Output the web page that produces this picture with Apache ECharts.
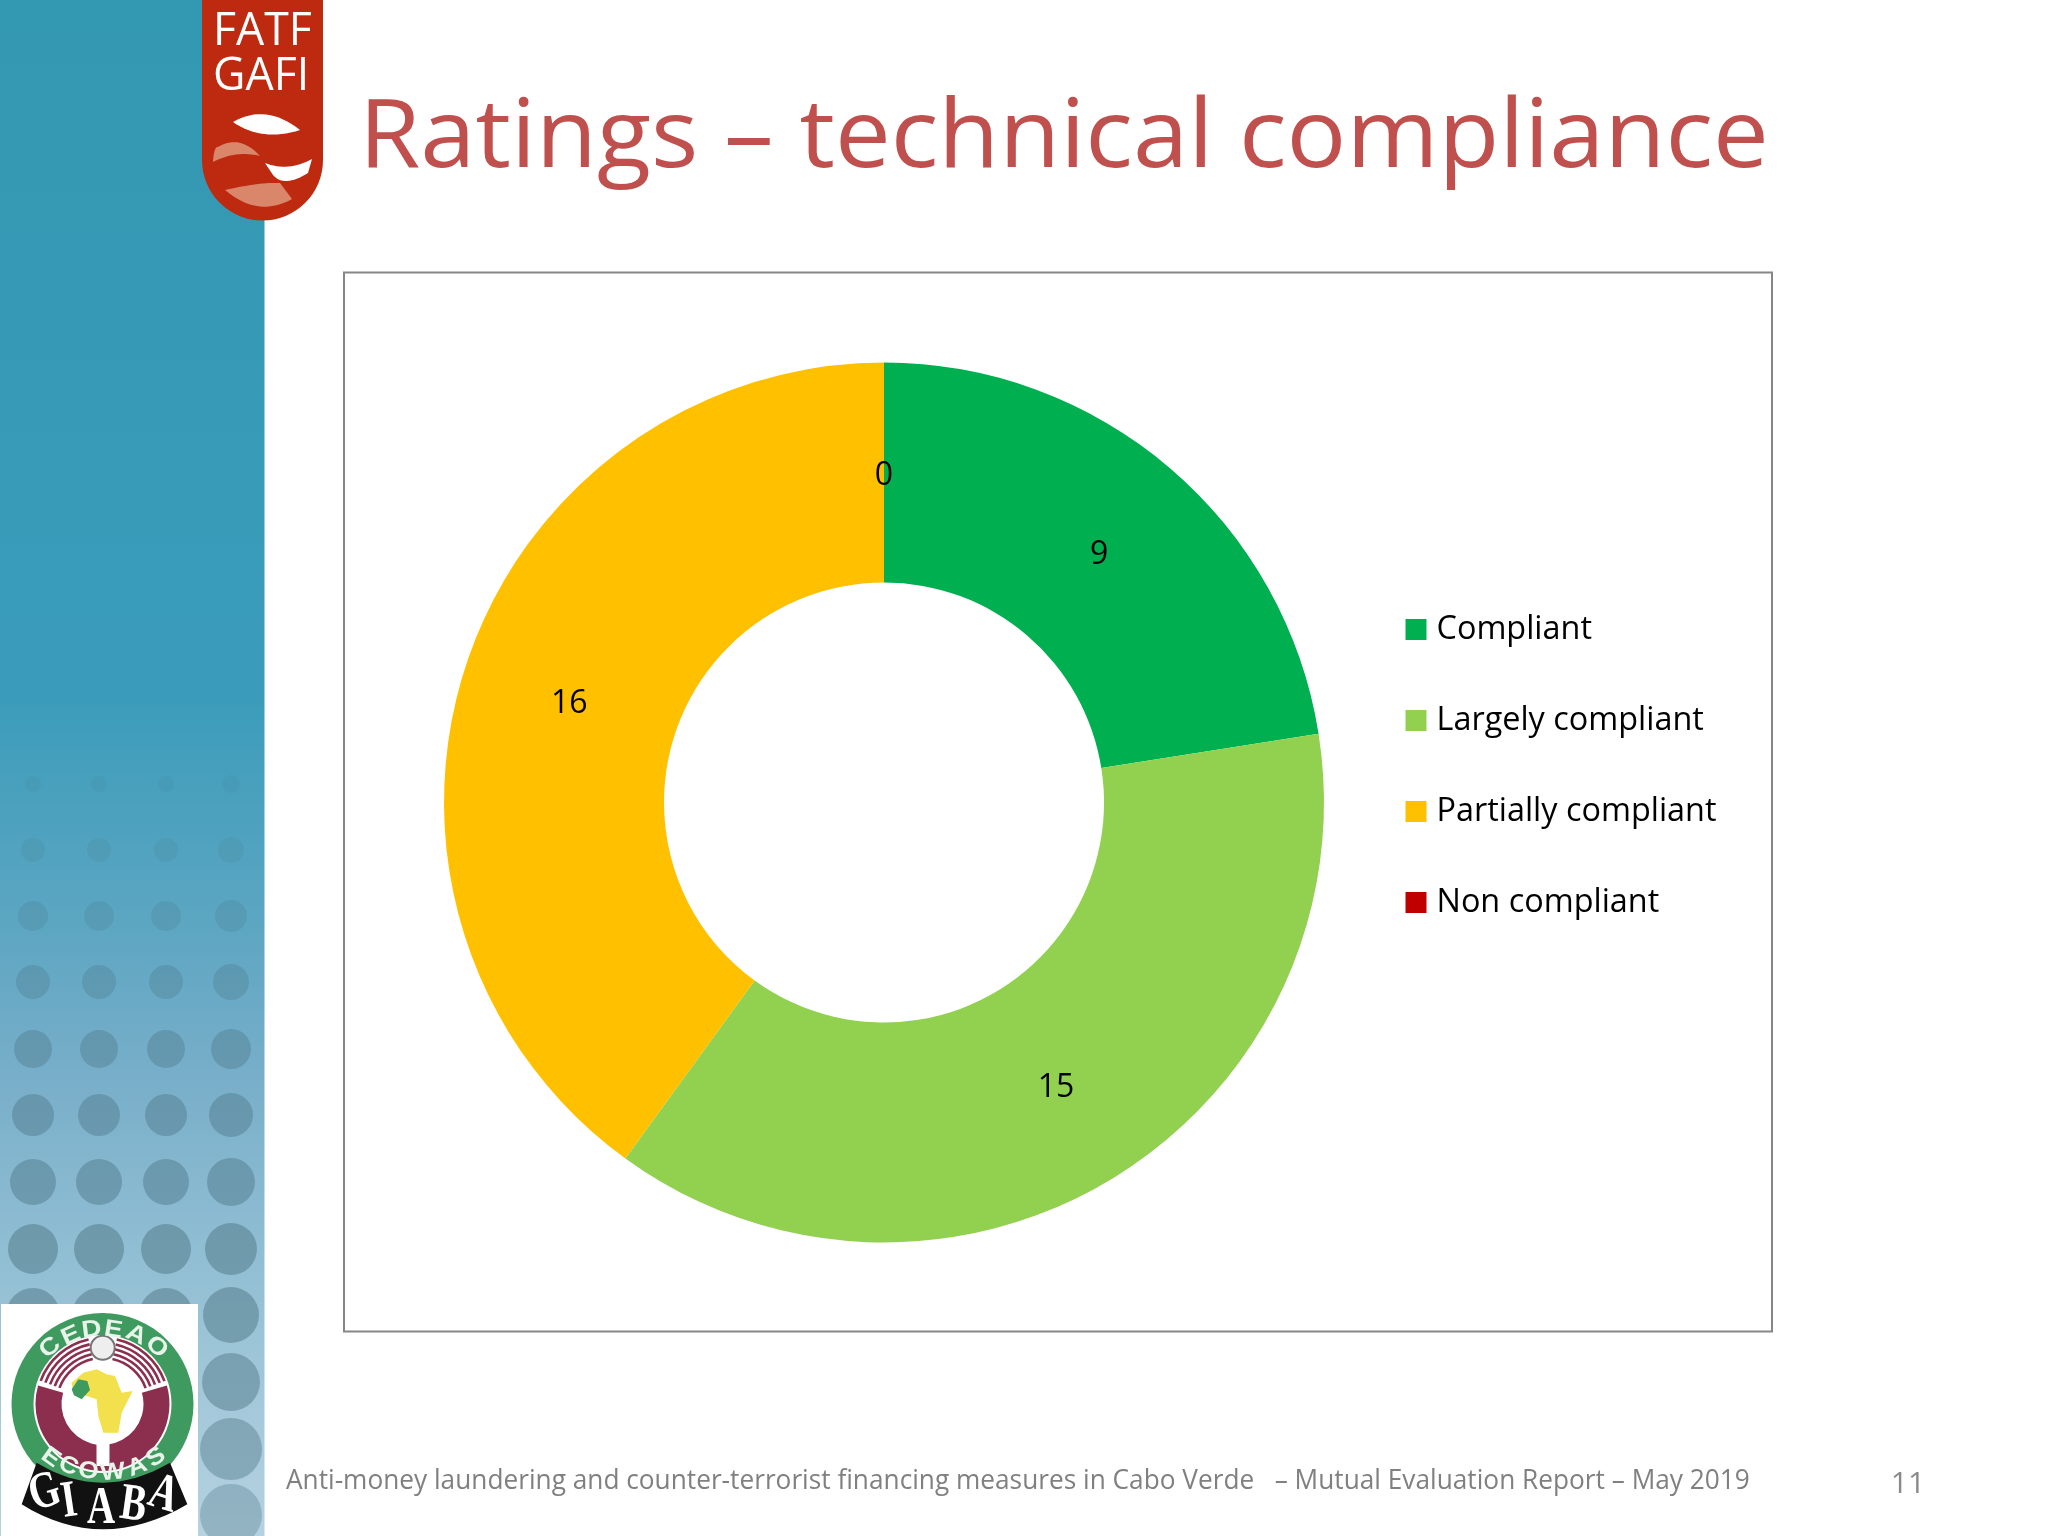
<!DOCTYPE html>
<html><head><meta charset="utf-8"><style>html,body{margin:0;padding:0;background:#fff}#c{width:2048px;height:1536px}</style>
<script src="https://cdn.jsdelivr.net/npm/echarts@6/dist/echarts.min.js"></script></head>
<body><div id="c"></div>
<script>
const categories = ['Compliant','Largely compliant','Partially compliant','Non compliant'];
const ratings = [9,15,16,0];
const sliceColors = ['#00B050','#92D050','#FFC000','#C00000'];
const labelNudges = [[-1,6],[-2,1],[2,4],[0,6]];
const titleText = 'Ratings – technical compliance';
const footerText = 'Anti-money laundering and counter-terrorist financing measures in Cabo Verde   – Mutual Evaluation Report – May 2019';
const pageNumber = '11';
const FONT = '"Open Sans"';

const g = [];
// sidebar
g.push({type:'rect',z:0,shape:{x:0,y:0,width:264.5,height:1536},style:{fill:{type:'linear',x:0,y:0,x2:0,y2:1,colorStops:[
 {offset:0,color:'#3398B2'},{offset:.45,color:'#3A9CBA'},{offset:.6,color:'#5CA6C2'},{offset:.7,color:'#78AEC9'},{offset:.8,color:'#8DBCD2'},{offset:1,color:'#B5D2E0'}]}}});
// dot pattern
const dotCols=[33,99,166,231];
const dotRows=[[784,8,.06],[850,12,.09],[916,15,.13],[982,17,.18],[1049,19,.22],[1115,21,.25],[1182,23,.27],[1249,25,.3],[1315,27,.3],[1382,28,.28],[1449,30,.25],[1515,30,.2]];
dotRows.forEach(([y,r,a])=>dotCols.forEach((x,i)=>g.push({type:'circle',z:1,shape:{cx:x,cy:y,r:r+(i==3?1:0)},style:{fill:'rgba(70,110,125,'+a*1.5+')'}})));
// polygon with optional quadratic curve segments: items are [x,y] or [cx,cy,x,y]
function poly(items,fill,z){
 const pts=[];let last=null;
 items.forEach(it=>{
  if(it.length===2){pts.push(it);last=it;}
  else{for(let t=1;t<=16;t++){const s=t/16,u=1-s;pts.push([u*u*last[0]+2*u*s*it[0]+s*s*it[2],u*u*last[1]+2*u*s*it[1]+s*s*it[3]]);}last=[it[2],it[3]];}
 });
 return {type:'polygon',z:z||3,shape:{points:pts},style:{fill}};
}
// FATF badge
g.push({type:'rect',z:3,shape:{x:202,y:0,width:121,height:160},style:{fill:'#BE2A10'}});
g.push({type:'circle',z:3,shape:{cx:262.5,cy:160,r:60.5},style:{fill:'#BE2A10'}});
g.push(poly([[233,122],[266,103,300,130],[262,142,233,122]],'#fff',4));
g.push(poly([[213,162],[214,146,218,147],[240,134,260,156],[236,150,213,162]],'#D9866B',4));
g.push(poly([[265,163],[288,172,312,159],[308,173],[284,188,273,175]],'#fff',4));
g.push(poly([[225,190],[260,182,280,183],[292,199],[258,218,225,190]],'#D9866B',4));
g.push({type:'text',z:4,x:213,y:32,scaleX:.97,style:{text:'FATF',fill:'#fff',font:'46px "Open Sans"',verticalAlign:'middle'}});
g.push({type:'text',z:4,x:213,y:77,scaleX:.97,style:{text:'GAFI',fill:'#fff',font:'46px "Open Sans"',verticalAlign:'middle'}});
// GIABA logo
g.push({type:'rect',z:3,shape:{x:1,y:1304,width:197,height:232},style:{fill:'#fff'}});
const cx=102.5,cy=1404;
const Z=(x,y)=>[x/3,y/3+1236];
g.push({type:'circle',z:4,shape:{cx,cy,r:91},style:{fill:'#3E9A5F'}});
g.push({type:'circle',z:4,shape:{cx,cy,r:69},style:{fill:'#fff'}});
g.push({type:'sector',z:4,shape:{cx,cy,r0:41,r:67,startAngle:-0.28,endAngle:Math.PI+0.28},style:{fill:'#8C2F4F'}});
[46,51,56,61,66].forEach(r=>{
 g.push({type:'arc',z:4,shape:{cx,cy,r,startAngle:3.5,endAngle:4.5},style:{stroke:'#8C2F4F',lineWidth:2.6,fill:null}});
 g.push({type:'arc',z:4,shape:{cx,cy,r,startAngle:4.93,endAngle:5.93},style:{stroke:'#8C2F4F',lineWidth:2.6,fill:null}});
});
g.push({type:'rect',z:5,shape:{x:96.5,y:1432,width:13,height:34},style:{fill:'#fff'}});
g.push(poly([Z(110,680),[...Z(305,800),...Z(510,680)],Z(562,805),[...Z(305,955),...Z(65,805)]],'#111',5));
g.push({type:'circle',z:5,shape:{cx:102.7,cy:1347.7,r:12},style:{fill:'#eee',stroke:'#777',lineWidth:2}});
g.push(poly([[215,440],[250,410],[290,400],[320,415],[345,420],[365,470],[398,465],[365,530],[355,590],[310,590],[295,540],[290,490],[260,480],[220,470]].map(p=>Z(p[0],p[1])),'#F2E14C',5));
g.push(poly([[215,460],[235,430],[262,435],[270,462],[245,490],[222,478]].map(p=>Z(p[0],p[1])),'#3E9A5F',6));
const logoFont='bold 24px "Liberation Sans"';
[['C',150,335,-.72],['E',213,300,-.42],['D',275,282,-.12],['E',340,282,.15],['A',408,297,.44],['O',470,333,.72]].forEach(([ch,x,y,r])=>{
 g.push({type:'text',z:6,x:x/3,y:y/3+1236,rotation:-r,scaleX:1.15,style:{text:ch,fill:'#E8F3EA',font:logoFont,align:'center',verticalAlign:'middle'}});});
[['E',152,665,.62],['C',205,690,.4],['O',265,706,.14],['W',338,710,-.1],['A',412,693,-.36],['S',468,665,-.6]].forEach(([ch,x,y,r])=>{
 g.push({type:'text',z:6,x:x/3,y:y/3+1236,rotation:-r,scaleX:1.1,style:{text:ch,fill:'#E8F3EA',font:logoFont,align:'center',verticalAlign:'middle'}});});
[['G',135,772,.3],['I',208,800,.15],['A',303,822,0],['B',400,810,-.14],['A',490,778,-.3]].forEach(([ch,x,y,r])=>{
 g.push({type:'text',z:6,x:x/3,y:y/3+1236,rotation:r,scaleX:.75,style:{text:ch,fill:'#fff',font:'bold 52px "Liberation Serif"',align:'center',verticalAlign:'middle'}});});
// chart frame
g.push({type:'rect',z:1,shape:{x:344,y:272.5,width:1428,height:1059},style:{fill:'#fff',stroke:'#868686',lineWidth:2}});
// title, footer, page
g.push({type:'text',z:3,x:359,y:140,scaleX:1.035,style:{text:titleText,fill:'#C0504D',font:'96px '+FONT,verticalAlign:'middle'}});
g.push({type:'text',z:3,x:286,y:1481,scaleX:.972,style:{text:footerText,fill:'#808080',font:'27px '+FONT,verticalAlign:'middle'}});
g.push({type:'text',z:3,x:1908,y:1484,style:{text:pageNumber,fill:'#898989',font:'30px '+FONT,align:'center',verticalAlign:'middle'}});

const chart = echarts.init(document.getElementById('c'),null,{renderer:'canvas',width:2048,height:1536});
chart.setOption({
 animation:false,
 backgroundColor:'#fff',
 graphic:{elements:g},
 color:sliceColors,
 legend:{orient:'vertical',left:1405.5,top:612,padding:0,itemWidth:21,itemHeight:21,itemGap:56,icon:'rect',
  data:categories,selectedMode:false,
  textStyle:{fontFamily:FONT,fontSize:32.4,color:'#000',padding:[2,0,0,5],lineHeight:33}},
 series:[{type:'pie',center:[884,802.5],radius:[220,440],startAngle:90,clockwise:true,
  avoidLabelOverlap:false,stillShowZeroSum:true,silent:true,
  label:{show:true,position:'inside',formatter:'{c}',color:'#000',fontFamily:FONT,fontSize:32},
  labelLine:{show:false},
  data:categories.map((name,i)=>({name,value:ratings[i],label:{offset:labelNudges[i]}}))}]
});
</script></body></html>
